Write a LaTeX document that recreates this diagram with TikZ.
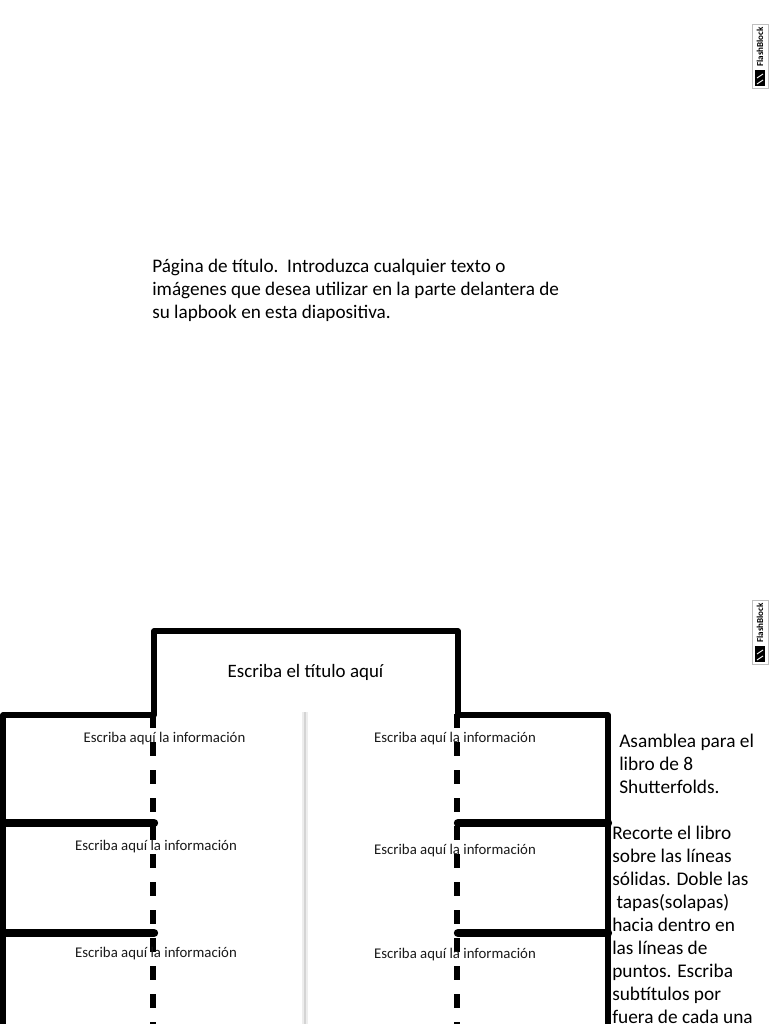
\documentclass[tikz,border=0pt]{standalone}
\usepackage{fontspec}
\setmainfont{Carlito}
\tikzset{
	outline/.style={line width=4.2pt, line join=round, line cap=round},
	foldrule/.style={line width=6.3pt, line cap=round},
	folddash/.style={line width=3.9pt, dash pattern=on 10.5pt off 10.5pt},
	shadowhalo/.style={line width=4.5pt, black!7},
	shadowrule/.style={line width=2.2pt, black!17},
	infotext/.style={font=\fontsize{11.1}{13}\selectfont, text=black!90, inner sep=0pt},
	bodytext/.style={font=\fontsize{14.4}{17.25}\selectfont, align=left, anchor=north west, inner sep=0pt},
	sidetext/.style={font=\fontsize{14.5}{17.25}\selectfont, align=left, anchor=north west, inner sep=0pt},
	stampbox/.style={draw=black!25, line width=.6pt, fill=white},
	stamptext/.style={font=\bfseries\fontsize{6.8}{7}\selectfont, rotate=90, inner sep=0pt},
}
\begin{document}
\begin{tikzpicture}[x=.75pt, y=-.75pt]
	\useasboundingbox (0,0) rectangle (768,1024);
	\path
	(3,1030) coordinate (LB)
	(3,715) coordinate (LT)
	(154,715) coordinate (LM)
	(154,631) coordinate (TL)
	(458,631) coordinate (TR)
	(458,715) coordinate (RM)
	(608,715) coordinate (RT)
	(608,1030) coordinate (RB)
	(3,823) coordinate (LA)
	(154,823) coordinate (LA')
	(3,933) coordinate (LC)
	(154,933) coordinate (LC')
	(458,823) coordinate (RA')
	(608,823) coordinate (RA)
	(458,933) coordinate (RC')
	(608,933) coordinate (RC)
	(305,712) coordinate (FT)
	(305,1030) coordinate (FB)
	(153,714) coordinate (DL)
	(153,1030) coordinate (DL')
	(457,714) coordinate (DR)
	(457,1030) coordinate (DR')
	;
	% fold in the middle
	\draw[shadowhalo] (FT)--(FB);
	\draw[shadowrule] (FT)--(FB);
	% cut lines
	\draw[outline] (LB)--(LT)--(LM)--(TL)--(TR)--(RM)--(RT)--(RB);
	\draw[foldrule] (LA)--(LA') (LC)--(LC') (RA')--(RA) (RC')--(RC);
	% fold lines
	\draw[folddash] (DL)--(DL') (DR)--(DR');
	% texts
	\node[bodytext] (title) at (152,259) {Página de título.\ \ Introduzca cualquier texto o\\imágenes que desea utilizar en la parte delantera de\\su lapbook en esta diapositiva.};
	\node[font=\fontsize{14.2}{17}\selectfont, inner sep=0pt] (head) at (305.5,672) {Escriba el título aquí};
	\foreach \n/\x/\y in {a/164.5/739,b/156/847,c/156/954,d/455/739,e/455/851,f/455/955}
	\node[infotext] (info\n) at (\x,\y) {Escriba aquí la información};
	\node[sidetext] (asm) at (619,734) {Asamblea para el\\libro de 8\\Shutterfolds.};
	\node[sidetext] (cut) at (612,826) {Recorte el libro\\sobre las líneas\\sólidas. Doble las\\\ tapas(solapas)\\hacia dentro en\\las líneas de\\puntos. Escriba\\subtítulos por\\fuera de cada una};
	% stamps
	\foreach \n/\y in {p/56,q/632}{
	\node[stampbox, minimum width=12pt, minimum height=48pt, inner sep=0pt] (box\n) at (760,\y) {};
	\node[stamptext] (stamp\n) at (760,\y-9) {FlashBlock};
	\fill (755,\y+14) rectangle (765,\y+30);
	\draw[white, line width=.7pt] (757,\y+28)--(763,\y+24) (757,\y+22)--(763,\y+18);
	}
\end{tikzpicture}
\end{document}
